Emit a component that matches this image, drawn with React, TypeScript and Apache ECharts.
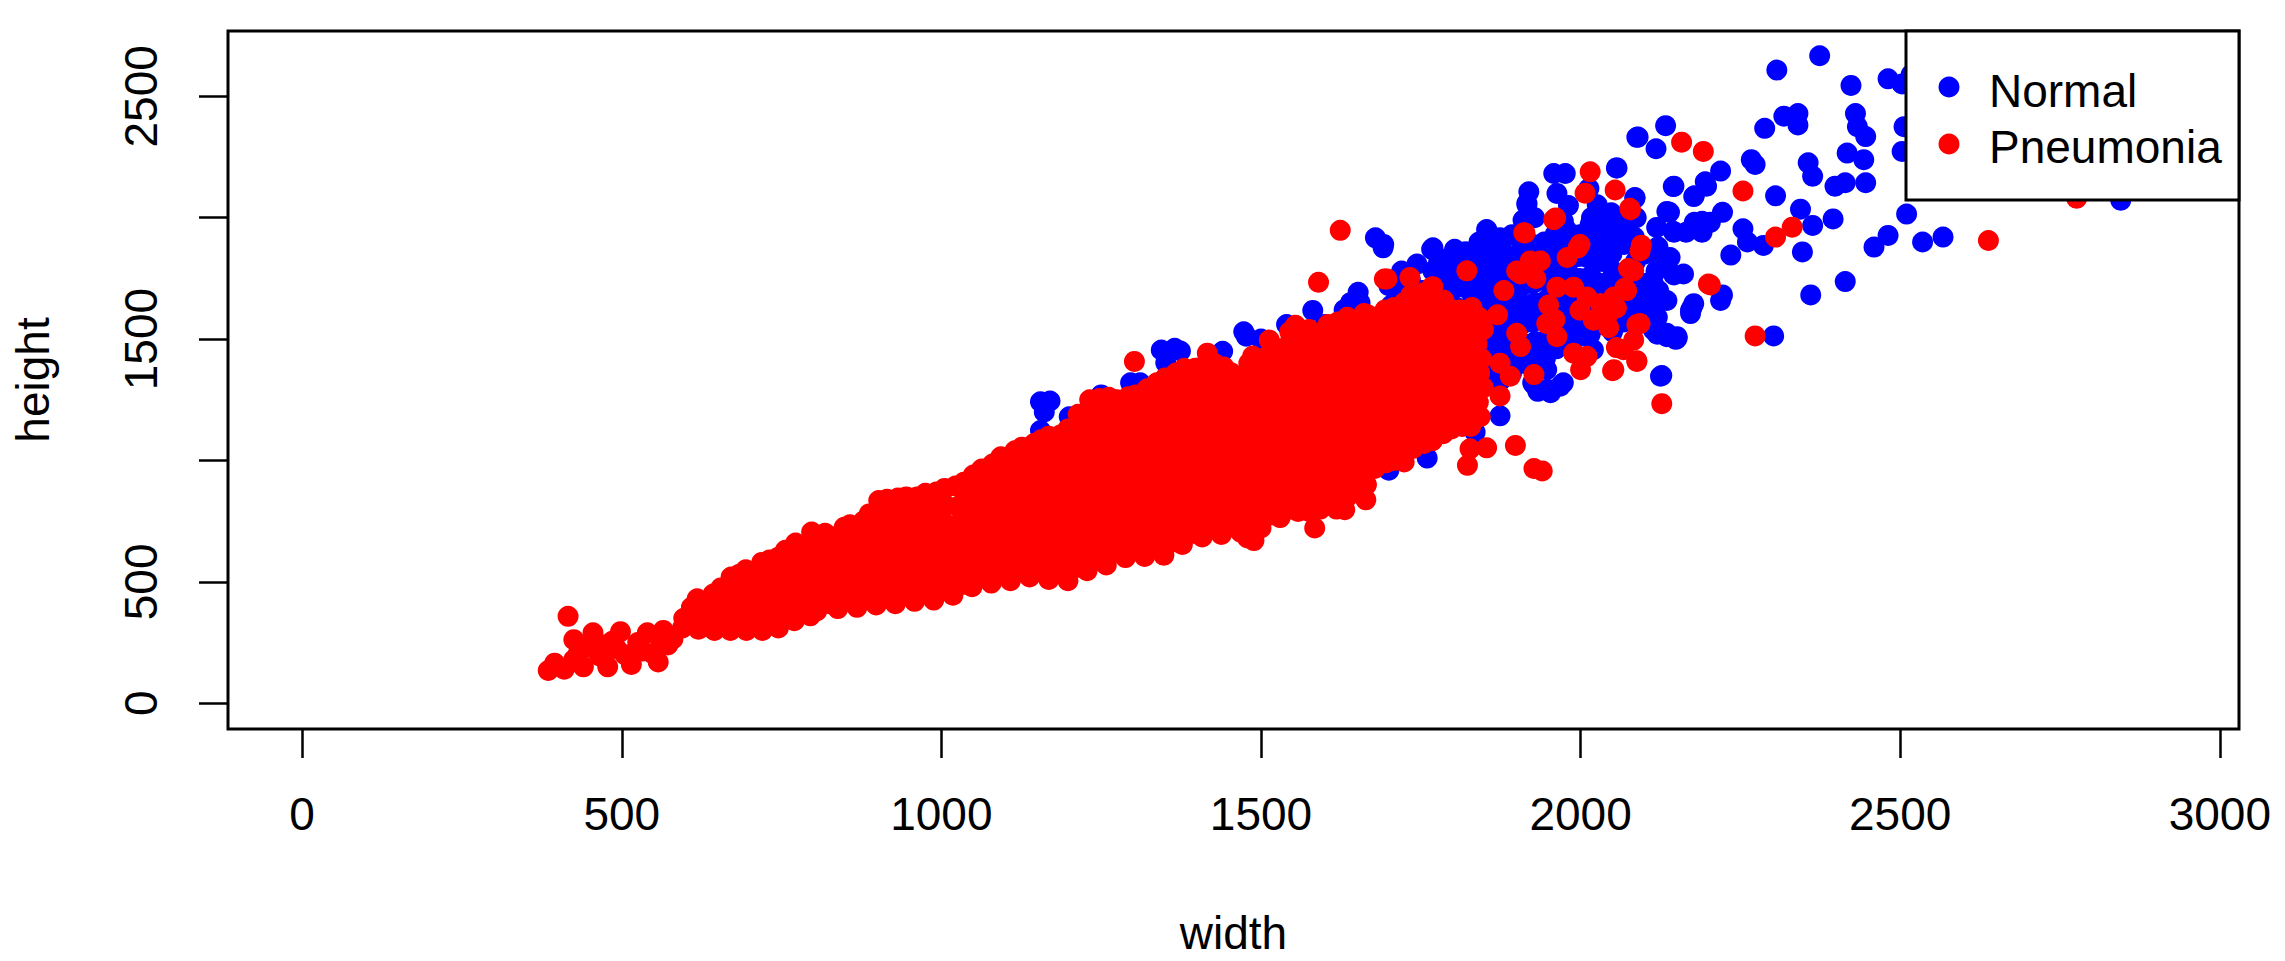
import React, { useEffect, useRef } from "react";
import * as echarts from "echarts";

const xTickValues = [0, 500, 1000, 1500, 2000, 2500, 3000];
const yTickValues = [0, 500, 1000, 1500, 2000, 2500];
const yLabelValues = [0, 500, 1500, 2500];
const legendNames = ["Normal", "Pneumonia"];
const seriesColors = ["#0000ff", "#ff0000"];

// Normal (blue) — dense core around the upper end of the band
const normalCore: number[][] = [
  [1700,1400],[1702,1480],[1698,1560],[1704,1640],
  [1735,1420],[1737,1500],[1733,1580],[1736,1660],[1734,1740],
  [1770,1400],[1772,1480],[1768,1560],[1771,1640],[1769,1780],
  [1805,1390],[1807,1470],[1803,1550],[1806,1630],[1804,1710],[1806,1790],[1803,1870],
  [1840,1350],[1842,1430],[1838,1510],[1841,1590],[1839,1670],[1842,1750],[1838,1830],[1841,1900],
  [1875,1330],[1877,1410],[1873,1490],[1876,1570],[1874,1650],[1877,1730],[1873,1810],[1876,1880],
  [1910,1400],[1912,1480],[1908,1560],[1911,1640],[1909,1720],[1912,1800],[1908,1870],[1910,1990],
  [1945,1420],[1947,1500],[1943,1580],[1946,1660],[1944,1740],[1947,1820],[1943,1900],
  [1980,1500],[1982,1580],[1978,1660],[1981,1740],[1979,1800],[1982,1880],[1978,1950],[1981,2050],
  [2015,1520],[2017,1600],[2013,1690],[2016,1760],[2014,1880],[2017,2000],[2013,2120],
  [2050,1530],[2052,1610],[2048,1700],[2051,1780],[2049,1850],[2052,1940],[2048,2020],
  [2085,1600],[2087,1690],[2083,1760],[2086,1820],[2084,1920],[2087,2000],
  [2120,1590],[2122,1700],[2118,1780],[2121,1880],[2119,1960]
];

// Normal (blue) — in-between points of the core
const normalFill: number[][] = [
  [1718,1440],[1720,1520],[1716,1600],[1719,1700],
  [1752,1460],[1754,1540],[1750,1620],[1753,1700],
  [1787,1430],[1789,1510],[1785,1590],[1788,1670],[1786,1750],[1789,1830],
  [1822,1390],[1824,1470],[1820,1550],[1823,1630],[1821,1710],[1824,1790],[1820,1860],
  [1857,1370],[1859,1450],[1855,1530],[1858,1610],[1856,1690],[1859,1770],[1855,1850],[1858,1920],
  [1892,1360],[1894,1440],[1890,1520],[1893,1600],[1891,1680],[1894,1760],[1890,1840],[1893,1930],
  [1927,1410],[1929,1490],[1925,1570],[1928,1650],[1926,1730],[1929,1810],[1925,1890],[1928,2000],
  [1962,1460],[1964,1540],[1960,1620],[1963,1700],[1961,1780],[1964,1860],[1960,1930],[1963,2100],
  [1997,1510],[1999,1590],[1995,1670],[1998,1750],[1996,1840],[1999,1930],
  [2032,1560],[2034,1640],[2030,1730],[2033,1820],[2031,1900],[2034,1980],
  [2067,1570],[2069,1650],[2065,1740],[2068,1890],[2066,1970],
  [2102,1640],[2104,1730],[2100,1850]
];

// Normal (blue) — points along the upper edge of the band and under it
const normalEdge: number[][] = [
  [1155,1242],[1161,1200],[1200,1180],[1170,1245],[1250,1270],[1284,1197],[1296,1320],[1311,1320],
  [1344,1455],[1365,1462],[1351,1403],[1374,1451],[1400,1380],[1440,1450],[1473,1530],[1477,1512],
  [1500,1500],[1540,1560],[1581,1618],[1600,1560],[1620,1540],[1630,1620],[1655,1650],[1652,1693],
  [1640,1650],[1679,1917],[1691,1876],[1700,1720],[1720,1780],[1769,1876],[1744,1809],[1767,1870],
  [1778,1822],[1692,1890],[1853,1951],[1854,1944],[1874,1917],[1848,1836],[1869,1836],[1916,2060],
  [1919,2107],[1916,2053],[1958,2182],[1976,2182],[2057,2205],[2088,2331],[2118,2284],[2133,2379],
  [2090,2332],[2056,2205],[2145,2128],[2177,2087],[2195,2148],[2085,2080],[1973,1985],[2026,2053],
  [2015,1972],[2031,1917],[2067,1985],[2135,2026],[2145,1944],[2177,1958],[2190,1985],[2140,1836],
  [2161,1768],[2177,1646],[2172,1605],[2135,1524],[2151,1510],[2125,1673],[2114,1727],[2093,1632],
  [2041,1890],[2010,1836],[2125,1347],[2135,1510],[2151,1503],[2114,1537],[2172,1619],[2219,1659],
  [2114,1646],[2135,1659],[1947,1374],[1968,1306],[1927,1313],[1953,1279],[1874,1184],[2020,1456],
  [1744,1632],[1786,1646],[1890,1592],[1949,1292],[1973,1320],[1925,1320],[1933,1285],
  [1505,817],[1835,1116],[1114,994],[1155,1123],[1560,820],[1600,880],[1700,960],[1760,1010]
];

// Normal (blue) — sparse points towards the upper right
const normalSparse: number[][] = [
  [2374,2667],[2307,2608],[2423,2545],[2481,2572],[2503,2551],[2517,2589],[2288,2368],[2318,2418],
  [2340,2429],[2340,2382],[2430,2429],[2433,2375],[2446,2334],[2506,2375],[2526,2311],[2503,2273],
  [2267,2239],[2273,2219],[2356,2226],[2363,2171],[2417,2266],[2443,2239],[2446,2144],[2398,2130],
  [2414,2144],[2146,2130],[2178,2090],[2197,2130],[2219,2192],[2085,2083],[2305,2090],[2344,2035],
  [2363,1968],[2395,1995],[2510,2015],[2139,2022],[2178,1981],[2203,1981],[2222,2022],[2146,1940],
  [2165,1940],[2190,1940],[2254,1954],[2261,1900],[2235,1846],[2286,1886],[2347,1859],[2459,1879],
  [2481,1927],[2535,1900],[2567,1920],[2414,1737],[2360,1682],[2222,1682],[2174,1628],[2120,1520],
  [2149,1499],[2127,1350],[2302,1513],[2127,1818],[2146,1764],[2120,1682],[2095,1655],[2845,2072]
];

// Pneumonia (red) — low tail on the left
const pneumoniaTail: number[][] = [
  [385,135],[395,165],[410,140],[416,358],[425,180],[425,262],[440,150],[445,230],[455,290],
  [465,195],[470,240],[478,150],[485,255],[498,295],[505,200],[515,160],[525,250],[540,290],
  [548,205],[557,170],[565,300],[572,240],[580,265],[432,205],[492,225],[532,215],[560,270]
];

// Pneumonia (red) — dense band, main columns
const pneumoniaCore: number[][] = [
  [595,310],[597,350],
  [620,305],[622,370],[618,430],
  [645,300],[647,370],[643,450],
  [670,300],[672,370],[668,440],[671,520],
  [695,300],[697,370],[693,440],[696,510],[694,550],
  [720,300],[722,370],[718,440],[721,510],[719,580],
  [745,310],[747,380],[743,450],[746,520],[744,600],
  [770,340],[772,410],[768,480],[771,550],[769,620],[772,660],
  [795,360],[797,430],[793,500],[796,570],[794,640],[797,705],
  [805,380],[812,450],[808,520],[815,590],[810,660],[818,700],
  [838,390],[842,460],[836,540],[845,610],[840,680],[848,725],
  [868,395],[872,470],[866,540],[875,610],[870,680],[878,750],
  [898,405],[903,480],[896,550],[905,620],[900,690],[906,760],[902,835],
  [928,410],[933,480],[926,550],[935,620],[930,700],[936,770],[932,845],
  [958,420],[963,490],[956,560],[965,630],[960,700],[966,780],[962,850],
  [988,425],[993,500],[986,570],[995,640],[990,710],[996,790],[992,870],
  [1018,445],[1023,520],[1016,590],[1025,660],[1020,730],[1026,810],[1022,895],
  [1048,480],[1053,550],[1046,620],[1055,690],[1050,760],[1056,830],[1052,900],[1050,940],
  [1078,495],[1083,570],[1076,640],[1085,710],[1080,780],[1086,850],[1082,920],[1080,985],
  [1108,505],[1113,580],[1106,650],[1115,720],[1110,790],[1116,860],[1112,930],[1110,1000],[1115,1040],
  [1138,520],[1143,590],[1136,660],[1145,730],[1140,800],[1146,870],[1142,940],[1140,1010],[1145,1070],
  [1168,510],[1173,580],[1166,650],[1175,720],[1170,790],[1176,860],[1172,930],[1170,1000],[1175,1070],[1168,1100],
  [1198,505],[1203,575],[1196,645],[1205,715],[1200,785],[1206,855],[1202,925],[1200,995],[1205,1065],[1198,1130],
  [1228,546],[1233,615],[1226,685],[1235,755],[1230,825],[1236,895],[1232,965],[1230,1035],[1235,1105],[1228,1175],[1232,1250],
  [1258,570],[1263,640],[1256,710],[1265,780],[1260,850],[1266,920],[1262,990],[1260,1060],[1265,1130],[1258,1200],[1262,1260],
  [1288,600],[1293,681],[1286,740],[1295,810],[1290,880],[1296,950],[1292,1020],[1290,1090],[1295,1160],[1288,1230],[1292,1262],
  [1318,605],[1323,670],[1316,740],[1325,810],[1320,880],[1326,950],[1322,1020],[1320,1090],[1325,1160],[1318,1230],[1322,1295],[1302,1408],
  [1348,610],[1353,680],[1346,750],[1355,820],[1350,890],[1356,960],[1352,1030],[1350,1100],[1355,1170],[1348,1240],[1352,1310],[1350,1340],
  [1377,654],[1383,720],[1376,790],[1385,860],[1380,930],[1386,1000],[1382,1070],[1380,1140],[1385,1210],[1378,1280],[1382,1350],[1380,1380],
  [1408,685],[1413,750],[1406,820],[1415,890],[1410,960],[1416,1030],[1412,1100],[1410,1170],[1415,1240],[1408,1310],[1412,1370],[1416,1442],
  [1438,695],[1443,760],[1436,830],[1445,900],[1440,970],[1446,1040],[1442,1110],[1440,1180],[1445,1250],[1438,1320],[1442,1385],
  [1468,705],[1473,770],[1466,840],[1475,910],[1470,980],[1476,1050],[1472,1120],[1470,1190],[1475,1260],[1468,1330],[1481,1401],[1489,670],
  [1500,722],[1503,790],[1496,860],[1505,930],[1500,1000],[1506,1070],[1502,1140],[1500,1210],[1505,1280],[1498,1350],[1502,1420],[1513,1496],[1479,681],
  [1530,765],[1533,830],[1526,900],[1535,970],[1530,1040],[1536,1110],[1532,1180],[1530,1250],[1535,1320],[1528,1390],[1532,1460],
  [1558,790],[1563,860],[1556,930],[1565,1000],[1560,1070],[1566,1140],[1562,1210],[1560,1280],[1565,1350],[1558,1420],[1562,1490],[1554,1557],
  [1584,722],[1593,800],[1586,870],[1595,940],[1590,1010],[1596,1080],[1592,1150],[1590,1220],[1595,1290],[1588,1360],[1592,1430],[1590,1500],
  [1618,800],[1623,870],[1616,940],[1625,1010],[1620,1080],[1626,1150],[1622,1220],[1620,1290],[1625,1360],[1618,1430],[1622,1500],[1620,1570],[1631,797],
  [1664,838],[1653,900],[1646,970],[1655,1040],[1650,1110],[1656,1180],[1652,1250],[1650,1320],[1655,1390],[1648,1460],[1652,1530],[1661,1605],
  [1678,967],[1683,1030],[1676,1100],[1685,1170],[1680,1240],[1686,1310],[1682,1380],[1680,1450],[1685,1520],[1678,1590],[1697,1089],
  [1708,1000],[1713,1070],[1706,1140],[1715,1210],[1710,1280],[1716,1350],[1712,1420],[1710,1490],[1715,1560],[1708,1630],[1724,994],
  [1738,1050],[1743,1120],[1736,1190],[1745,1260],[1740,1330],[1746,1400],[1742,1470],[1740,1540],[1745,1610],[1734,1680],
  [1768,1082],[1773,1150],[1766,1220],[1775,1290],[1770,1360],[1776,1430],[1772,1500],[1770,1570],[1775,1640],[1767,1714],
  [1798,1130],[1803,1200],[1796,1270],[1805,1340],[1800,1410],[1806,1480],[1802,1550],[1800,1620],[1823,980],[1827,1048],
  [1828,1140],[1833,1210],[1826,1280],[1835,1350],[1830,1420],[1836,1490],[1832,1560],[1830,1630],
  [1843,1180],[1848,1300],[1845,1420],[1848,1540]
];

// Pneumonia (red) — dense band, in-between columns
const pneumoniaFill: number[][] = [
  [607,330],[609,395],
  [632,335],[634,405],
  [657,335],[659,405],[655,475],
  [682,335],[684,405],[680,475],[683,530],
  [707,335],[709,405],[705,475],[708,545],
  [732,340],[734,410],[730,480],[733,550],[731,590],
  [757,355],[759,425],[755,495],[758,565],[756,630],
  [782,370],[784,440],[780,510],[783,580],[781,650],
  [825,410],[827,480],[823,550],[826,620],[824,690],
  [855,420],[857,490],[853,560],[856,630],[854,700],[857,735],
  [885,430],[887,500],[883,570],[886,640],[884,710],[887,780],
  [915,440],[917,510],[913,580],[916,650],[914,720],[917,790],[915,840],
  [945,445],[947,515],[943,585],[946,655],[944,725],[947,795],[945,850],
  [975,455],[977,525],[973,595],[976,665],[974,735],[977,805],[975,865],
  [1005,465],[1007,535],[1003,605],[1006,675],[1004,745],[1007,815],[1005,885],
  [1035,490],[1037,560],[1033,630],[1036,700],[1034,770],[1037,840],[1035,910],
  [1065,520],[1067,590],[1063,660],[1066,730],[1064,800],[1067,870],[1065,940],[1063,965],
  [1095,535],[1097,605],[1093,675],[1096,745],[1094,815],[1097,885],[1095,955],[1093,1015],
  [1125,545],[1127,615],[1123,685],[1126,755],[1124,825],[1127,895],[1125,965],[1123,1035],[1126,1055],
  [1155,550],[1157,620],[1153,690],[1156,760],[1154,830],[1157,900],[1155,970],[1153,1040],[1156,1085],
  [1185,545],[1187,615],[1183,685],[1186,755],[1184,825],[1187,895],[1185,965],[1183,1035],[1186,1105],
  [1215,560],[1217,630],[1213,700],[1216,770],[1214,840],[1217,910],[1215,980],[1213,1050],[1216,1120],[1214,1190],
  [1245,590],[1247,660],[1243,730],[1246,800],[1244,870],[1247,940],[1245,1010],[1243,1080],[1246,1150],[1244,1220],[1247,1255],
  [1275,620],[1277,690],[1273,760],[1276,830],[1274,900],[1277,970],[1275,1040],[1273,1110],[1276,1180],[1274,1250],
  [1305,640],[1307,710],[1303,780],[1306,850],[1304,920],[1307,990],[1305,1060],[1303,1130],[1306,1200],[1304,1270],
  [1335,645],[1337,715],[1333,785],[1336,855],[1334,925],[1337,995],[1335,1065],[1333,1135],[1336,1205],[1334,1275],[1337,1320],
  [1365,665],[1367,735],[1363,805],[1366,875],[1364,945],[1367,1015],[1365,1085],[1363,1155],[1366,1225],[1364,1295],[1367,1360],
  [1395,700],[1397,770],[1393,840],[1396,910],[1394,980],[1397,1050],[1395,1120],[1393,1190],[1396,1260],[1394,1330],[1397,1380],
  [1425,720],[1427,790],[1423,860],[1426,930],[1424,1000],[1427,1070],[1425,1140],[1423,1210],[1426,1280],[1424,1350],[1427,1400],
  [1455,730],[1457,800],[1453,870],[1456,940],[1454,1010],[1457,1080],[1455,1150],[1453,1220],[1456,1290],[1454,1360],
  [1485,745],[1487,815],[1483,885],[1486,955],[1484,1025],[1487,1095],[1485,1165],[1483,1235],[1486,1305],[1484,1375],[1487,1430],
  [1515,775],[1517,845],[1513,915],[1516,985],[1514,1055],[1517,1125],[1515,1195],[1513,1265],[1516,1335],[1514,1405],[1517,1465],
  [1545,800],[1547,870],[1543,940],[1546,1010],[1544,1080],[1547,1150],[1545,1220],[1543,1290],[1546,1360],[1544,1430],[1547,1500],[1545,1530],
  [1575,790],[1577,860],[1573,930],[1576,1000],[1574,1070],[1577,1140],[1575,1210],[1573,1280],[1576,1350],[1574,1420],[1577,1490],[1575,1540],
  [1605,820],[1607,890],[1603,960],[1606,1030],[1604,1100],[1607,1170],[1605,1240],[1603,1310],[1606,1380],[1604,1450],[1607,1520],[1605,1560],
  [1635,850],[1637,920],[1633,990],[1636,1060],[1634,1130],[1637,1200],[1635,1270],[1633,1340],[1636,1410],[1634,1480],[1637,1550],[1635,1590],
  [1665,900],[1667,970],[1663,1040],[1666,1110],[1664,1180],[1667,1250],[1665,1320],[1663,1390],[1666,1460],[1664,1530],[1667,1600],
  [1695,990],[1697,1060],[1693,1130],[1696,1200],[1694,1270],[1697,1340],[1695,1410],[1693,1480],[1696,1550],[1694,1620],
  [1725,1030],[1727,1100],[1723,1170],[1726,1240],[1724,1310],[1727,1380],[1725,1450],[1723,1520],[1726,1590],[1724,1650],
  [1755,1070],[1757,1140],[1753,1210],[1756,1280],[1754,1350],[1757,1420],[1755,1490],[1753,1560],[1756,1630],[1754,1690],
  [1785,1110],[1787,1180],[1783,1250],[1786,1320],[1784,1390],[1787,1460],[1785,1530],[1783,1600],[1786,1660],
  [1815,1140],[1817,1210],[1813,1280],[1816,1350],[1814,1420],[1817,1490],[1815,1560],[1813,1620],
  [1840,1240],[1842,1360],[1838,1480],[1841,1590]
];

// Pneumonia (red) — scattered points among the blue cloud and outliers
const pneumoniaScatter: number[][] = [
  [1590,1734],[1624,1948],[1693,1747],[1697,1748],[1733,1754],[1769,1716],[1822,1781],[1906,1768],
  [1921,1822],[1937,1822],[1911,1938],[1958,1992],[1979,1836],[1999,1890],[2007,2101],[2015,2189],
  [2054,2114],[2078,2033],[2093,1863],[2083,1781],[2072,1700],[2200,1727],[1963,1714],[1989,1714],
  [2010,1673],[2031,1646],[2052,1673],[2020,1578],[1999,1619],[2093,1564],[2083,1496],[2158,2311],
  [2192,2273],[2254,2110],[2331,1961],[2305,1920],[2203,1723],[2273,1513],[2638,1906],[2776,2080],
  [2127,1234],[1898,1062],[1927,967],[1927,1354],[1874,1266],[2000,1374],[2010,1429],[2052,1374],
  [2088,1408],[2067,1456],[2041,1592],[1989,1442],[1963,1510],[1947,1564],[1906,1469],[1900,1524],
  [1874,1401],[1890,1347],[2056,1465],[2050,1370],[2088,1411],[2044,1547],[2088,1560],[2056,1628],
  [2069,1710],[2075,1791],[2095,1887],[1913,1937],[1961,1999],[2077,2039],[1900,1780],[1930,1750],
  [1996,1876],[1853,1052],[1940,957],[1768,1082],[1870,1600],[1950,1640],[1880,1700],[1960,1580]
];

const normalPoints = [...normalCore, ...normalFill, ...normalEdge, ...normalSparse];
const pneumoniaPoints = [...pneumoniaTail, ...pneumoniaCore, ...pneumoniaFill, ...pneumoniaScatter];

const FONT = "'Liberation Sans', Arial, sans-serif";
const FS = 46;

export default function App() {
  const ref = useRef<HTMLDivElement>(null);
  useEffect(() => {
    document.body.style.margin = "0";
    const chart = echarts.init(ref.current!, null, { renderer: "svg" });
    chart.setOption({
      animation: false,
      backgroundColor: "#ffffff",
      textStyle: { fontFamily: FONT, color: "#000" },
      grid: {
        left: 228, top: 31, width: 2011, height: 706,
        show: true, borderColor: "#000", borderWidth: 3, backgroundColor: "transparent",
      },
      xAxis: {
        type: "value", min: -116, max: 3030,
        name: "width", nameLocation: "middle", nameGap: 181,
        nameTextStyle: { fontSize: FS, color: "#000", fontFamily: FONT },
        splitLine: { show: false },
        axisLine: { show: false, onZero: false },
        axisTick: { show: true, customValues: xTickValues, length: 29, lineStyle: { color: "#000", width: 2.5 } },
        axisLabel: {
          customValues: xTickValues, fontSize: FS, color: "#000", fontFamily: FONT, margin: 62,
          formatter: (v: number) => String(v),
        },
      },
      yAxis: {
        type: "value", min: -106, max: 2769,
        name: "height", nameLocation: "middle", nameGap: 172,
        nameTextStyle: { fontSize: FS, color: "#000", fontFamily: FONT },
        splitLine: { show: false },
        axisLine: { show: false, onZero: false },
        axisTick: { show: true, customValues: yTickValues, length: 29, lineStyle: { color: "#000", width: 2.5 } },
        axisLabel: {
          customValues: yLabelValues, rotate: 90, fontSize: FS, color: "#000", fontFamily: FONT, margin: 64,
          formatter: (v: number) => String(v),
        },
      },
      series: [
        {
          name: legendNames[0], type: "scatter", data: normalPoints, symbol: "circle", symbolSize: 21,
          itemStyle: { color: seriesColors[0], opacity: 1 }, silent: true, z: 2,
        },
        {
          name: legendNames[1], type: "scatter", data: pneumoniaPoints, symbol: "circle", symbolSize: 21,
          itemStyle: { color: seriesColors[1], opacity: 1 }, silent: true, z: 3,
        },
      ],
      graphic: [
        {
          type: "rect", z: 100, silent: true,
          shape: { x: 1906, y: 31, width: 333, height: 169 },
          style: { fill: "#fff", stroke: "#000", lineWidth: 3 },
        },
        { type: "circle", z: 101, silent: true, shape: { cx: 1949, cy: 87, r: 10.5 }, style: { fill: seriesColors[0] } },
        { type: "circle", z: 101, silent: true, shape: { cx: 1949, cy: 144, r: 10.5 }, style: { fill: seriesColors[1] } },
        {
          type: "text", z: 101, silent: true, x: 1989, y: 91,
          style: { text: legendNames[0], font: `${FS}px ${FONT}`, fill: "#000", verticalAlign: "middle", align: "left" },
        },
        {
          type: "text", z: 101, silent: true, x: 1989, y: 147,
          style: { text: legendNames[1], font: `${FS}px ${FONT}`, fill: "#000", verticalAlign: "middle", align: "left" },
        },
      ],
    });
    return () => chart.dispose();
  }, []);
  return <div ref={ref} style={{ width: 2285, height: 961 }} />;
}
